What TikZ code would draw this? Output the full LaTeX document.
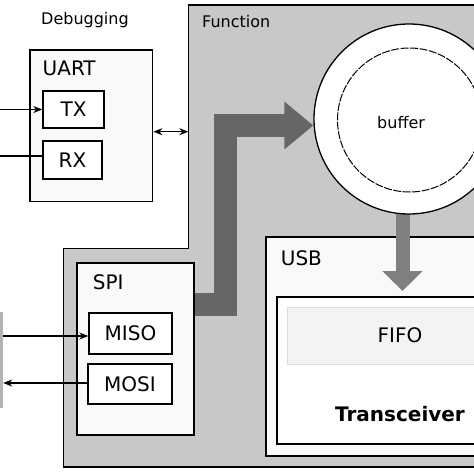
\documentclass[tikz,border=0pt]{standalone}
\usepackage{fontspec}
\setmainfont{DejaVu Sans}
\usetikzlibrary{arrows.meta}
\definecolor{fngray}{HTML}{C8C8C8}
\definecolor{boxfill}{HTML}{F9F9F9}
\definecolor{fifofill}{HTML}{F3F3F3}
\definecolor{fifoline}{HTML}{DDDDDD}
\definecolor{darkarrow}{HTML}{666666}
\definecolor{midarrow}{HTML}{808080}
\definecolor{stripgray}{HTML}{B4B4B4}
\begin{document}
\begin{tikzpicture}[x=1pt,y=-1pt,
  bigfont/.style={font=\fontsize{20}{24}\selectfont},
  smallfont/.style={font=\fontsize{16}{19}\selectfont},
  outerbox/.style={draw=black, line width=1.4pt, fill=boxfill, inner sep=0pt},
  pinbox/.style={draw=black, line width=1.4pt, fill=white, inner sep=0pt, bigfont},
  lbl/.style={anchor=base west, inner sep=0pt, bigfont},
  sig/.style={line width=1.1pt, draw=black},
  tip/.style={-{Stealth[length=9pt,width=7pt]}}
]
\useasboundingbox (0,0) rectangle (474,474);

% Function region
\filldraw[fill=fngray, draw=black, line width=1.4pt]
  (188.3,5) -- (490,5) -- (490,467) -- (63.3,467) -- (63.3,248.3) -- (188.3,248.3) -- cycle;
\coordinate (fnl) at (188.3,131.7);

% Debugging / UART
\node[anchor=base west, inner sep=0pt, smallfont] (dbg) at (41,24.3) {Debugging};
\node[outerbox, minimum width=122.7pt, minimum height=151.7pt] (uart) at (91.35,125.85) {};
\node[lbl] (uartl) at (42.5,75) {UART};
\node[pinbox, minimum width=61pt, minimum height=37pt] (tx) at (73.5,109.5) {TX};
\node[pinbox, minimum width=59pt, minimum height=38pt] (rx) at (72.5,160) {RX};
\coordinate (txin) at (-2,109.5);
\coordinate (rxout) at (-2,156);
\draw[sig, tip] (txin) -- (tx.west);
\draw[sig] (rx.west |- rxout) -- (rxout);
\draw[sig, {Stealth[length=9pt,width=7pt]}-{Stealth[length=9pt,width=7pt]}] (uart.east |- fnl) -- (fnl);

% SPI
\node[outerbox, minimum width=117pt, minimum height=172pt] (spi) at (135.5,349) {};
\node[lbl] (spil) at (92.7,289) {SPI};
\node[pinbox, minimum width=83pt, minimum height=41pt] (miso) at (130.5,333.5) {MISO};
\node[pinbox, minimum width=84pt, minimum height=40pt] (mosi) at (130,384) {MOSI};
\node[fill=stripgray, inner sep=0pt, minimum width=6pt, minimum height=96pt] (host) at (0,360) {};
\coordinate (misoy) at (0,336);
\coordinate (mosiy) at (0,383);
\draw[sig, tip] (host.east |- misoy) -- (miso.west |- misoy);
\draw[sig, tip] (mosi.west |- mosiy) -- (host.east |- mosiy);

% USB
\node[outerbox, minimum width=234pt, minimum height=219pt] (usb) at (383,346.5) {};
\node[lbl] (usbl) at (280.7,265.7) {USB};
\node[draw=black, line width=2pt, fill=white, inner sep=0pt, minimum width=246pt, minimum height=147pt] (trx) at (400,370.5) {};
\node[draw=fifoline, line width=1pt, fill=fifofill, inner sep=0pt, minimum width=226pt, minimum height=57pt, bigfont] (fifo) at (400,335.5) {FIFO};
\node[inner sep=0pt, font=\fontsize{20}{24}\selectfont\bfseries] (trxl) at (400,414) {Transceiver};

% down arrow from buffer
\coordinate (bc) at (409,119);
\coordinate (da) at (402.5,291);
\draw[line width=14pt, draw=midarrow, -{Triangle[length=20pt,width=39pt]}] (bc -| da) -- (da);

% buffer
\node[circle, draw=black, line width=1.3pt, fill=white, minimum size=190pt, inner sep=0pt] (buffer) at (bc) {};
\node[circle, draw=black, line width=1pt, dash pattern=on 8pt off 1.5pt, minimum size=144pt, inner sep=0pt] (bufin) at (409.5,120) {};
\node[anchor=base west, inner sep=0pt, smallfont] (bufl) at (377,128) {buffer};

% big arrow from SPI to buffer
\coordinate (bt) at (0,125.5);
\draw[line width=23.5pt, draw=darkarrow, -{Triangle[length=29pt,width=46pt]}]
  (spi.east |- 0,304.5) -- (225.5,304.5) -- (225.5,125.5) -- (buffer.west |- bt);

\node[anchor=base west, inner sep=0pt, smallfont] (fnlbl) at (202,27) {Function};
\end{tikzpicture}
\end{document}
